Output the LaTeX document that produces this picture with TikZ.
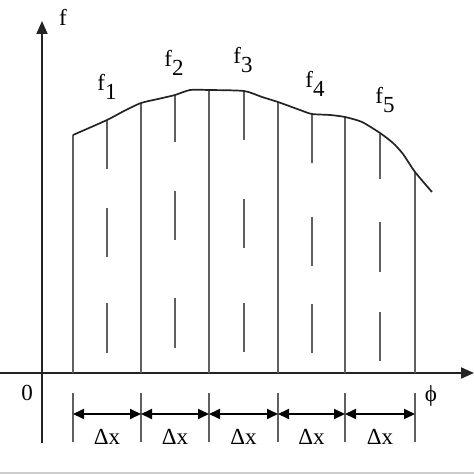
\documentclass[tikz,border=0pt]{standalone}
\usepackage{fontspec}
\setmainfont{Liberation Serif}
\usetikzlibrary{arrows.meta}
\definecolor{axisgray}{RGB}{35,35,35}
\definecolor{rulegray}{RGB}{95,95,95}
\definecolor{bargray}{RGB}{205,205,205}
\newcommand{\flab}[1]{f\raisebox{-9bp}{#1}}

\begin{document}
\begin{tikzpicture}[x=1bp,y=-1bp,inner sep=0pt,outer sep=0pt,
    rule/.style={rulegray,line width=1.2bp},
    axisline/.style={axisgray,line width=1.8bp,-{Triangle[length=13bp,width=11bp]}},
    dimline/.style={black,line width=1.8bp,{Triangle[length=11bp,width=10bp]}-{Triangle[length=11bp,width=10bp]}},
    lab/.style={font=\fontsize{23bp}{27bp}\selectfont}]
  \useasboundingbox (0,0) rectangle (474,474);
  \fill[fill=bargray] (0,471.5) rectangle (474,474);
  % axes
  \coordinate (xstart) at (0,373);
  \coordinate (xend) at (474,373);
  \coordinate (ystart) at (42,443);
  \coordinate (yend) at (42,21);
  \draw[axisline] (xstart) -- (xend);
  \draw[axisline] (ystart) -- (yend);
  \node[lab] (ylab) at (63,17) {f};
  \node[lab] (origin) at (27,393) {0};
  \node[lab] (xlab) at (431,396) {ϕ};
  % solid strips
  \foreach \n/\x/\yt in {0/73/135,1/141/103,2/209/90,3/278/102,4/345/117,5/415/172}{
    \coordinate (top\n) at (\x,\yt);
    \coordinate (bot\n) at (\x,373);
    \coordinate (exta\n) at (\x,393);
    \coordinate (extb\n) at (\x,442);
    \coordinate (dim\n) at (\x,414);
    \draw[rule] (top\n) -- (bot\n);
    \draw[rule] (exta\n) -- (extb\n);
  }
  % broken mid lines
  \foreach \x/\a/\b/\c/\d/\e/\f in {107/120/169/208/257/303/353,175/95/142/191/240/298/348,
      244/91/140/199/248/303/352,312/114/163/217/266/304/353,380/134/179/222/272/312/361}{
    \draw[rule] (\x,\a) -- (\x,\b);
    \draw[rule] (\x,\c) -- (\x,\d);
    \draw[rule] (\x,\e) -- (\x,\f);
  }
  % curve
  \draw[axisgray,line width=1.7bp] plot[smooth,tension=0.4] coordinates {
    (73,135) (107,120) (124,111) (141,103) (158,99) (175,95) (190,90) (209,90)
    (244,91) (262,97) (278,102) (300,110) (312,114) (330,115) (345,117) (362,122)
    (380,133) (393,143) (403,154) (415,172) (432,192)};
  % f labels
  \node[lab] (f1) at (107,87) {\flab{1}};
  \node[lab] (f2) at (174,63) {\flab{2}};
  \node[lab] (f3) at (243,60) {\flab{3}};
  \node[lab] (f4) at (315,84) {\flab{4}};
  \node[lab] (f5) at (385,100) {\flab{5}};
  % dimensions
  \foreach \n in {0,...,4}{
    \pgfmathtruncatemacro{\m}{\n+1}
    \draw[dimline] (dim\n) -- (dim\m);
    \path (dim\n) -- (dim\m) node[lab,midway,yshift=-23bp] (dx\n) {Δx};
  }
\end{tikzpicture}
\end{document}
